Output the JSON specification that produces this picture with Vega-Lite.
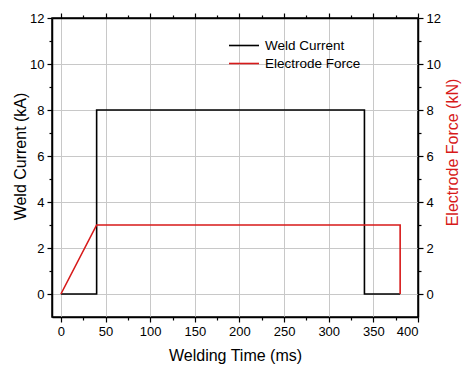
{
  "$schema": "https://vega.github.io/schema/vega-lite/v6.json",
  "width": 366,
  "height": 299,
  "autosize": {"type": "none"},
  "padding": {"left": 52, "top": 18, "right": 56, "bottom": 56},
  "background": "white",
  "config": {
    "font": "Liberation Sans",
    "view": {"stroke": "black", "strokeWidth": 1.5},
    "axis": {
      "domainColor": "black", "domainWidth": 1.5,
      "tickColor": "black", "tickWidth": 1.2,
      "labelFontSize": 13, "labelColor": "black",
      "titleFontSize": 16, "titleFontWeight": "normal", "titleColor": "black",
      "gridColor": "#c8c8c8", "gridWidth": 1
    }
  },
  "data": {
    "values": [
      {"series": "Weld Current", "i": 1, "t": 0, "v": 0},
      {"series": "Weld Current", "i": 2, "t": 40, "v": 0},
      {"series": "Weld Current", "i": 3, "t": 40, "v": 8},
      {"series": "Weld Current", "i": 4, "t": 340, "v": 8},
      {"series": "Weld Current", "i": 5, "t": 340, "v": 0},
      {"series": "Weld Current", "i": 6, "t": 380, "v": 0},
      {"series": "Electrode Force", "i": 1, "t": 0, "v": 0},
      {"series": "Electrode Force", "i": 2, "t": 40, "v": 3},
      {"series": "Electrode Force", "i": 3, "t": 380, "v": 3},
      {"series": "Electrode Force", "i": 4, "t": 380, "v": 0}
    ]
  },
  "layer": [
    {
      "transform": [{"filter": "datum.series === 'Weld Current'"}],
      "mark": {"type": "line", "strokeWidth": 1.6},
      "encoding": {
        "x": {"field": "t", "type": "quantitative",
          "scale": {"domain": [-10, 400], "nice": false, "zero": false},
          "axis": {"orient": "bottom", "title": "Welding Time (ms)", "titlePadding": 9,
            "values": [0,25,50,75,100,125,150,175,200,225,250,275,300,325,350,375,400],
            "labelExpr": "datum.value % 50 === 0 ? datum.label : ''",
            "tickSize": {"condition": {"test": "datum.value % 50 === 0", "value": 5}, "value": 3},
            "grid": true,
            "gridOpacity": {"condition": {"test": "datum.value % 50 === 0", "value": 1}, "value": 0},
            "labelPadding": 3}},
        "y": {"field": "v", "type": "quantitative",
          "scale": {"domain": [-1, 12], "nice": false, "zero": false},
          "axis": {"orient": "left", "title": "Weld Current (kA)", "titlePadding": 1, "titleY": 138,
            "values": [0,1,2,3,4,5,6,7,8,9,10,11,12],
            "labelExpr": "datum.value % 2 === 0 ? datum.label : ''",
            "tickSize": {"condition": {"test": "datum.value % 2 === 0", "value": 5}, "value": 3},
            "grid": true,
            "gridOpacity": {"condition": {"test": "datum.value % 2 === 0", "value": 1}, "value": 0},
            "labelPadding": 3}},
        "order": {"field": "i"},
        "color": {"field": "series", "type": "nominal",
          "scale": {"domain": ["Weld Current", "Electrode Force"], "range": ["black", "#d71a1a"]},
          "legend": {"title": null, "orient": "none", "legendX": 206, "legendY": 19,
            "symbolType": "M -5 0 L -1 0", "symbolSize": 225, "symbolStrokeWidth": 1.6,
            "labelFontSize": 13.5, "rowPadding": 3, "labelOffset": -10}}
      }
    },
    {
      "transform": [{"filter": "datum.series === 'Electrode Force'"}],
      "mark": {"type": "line", "strokeWidth": 1.6},
      "encoding": {
        "x": {"field": "t", "type": "quantitative",
          "scale": {"domain": [-10, 400], "nice": false, "zero": false},
          "axis": {"orient": "top", "title": null, "labels": false,
            "values": [0,25,50,75,100,125,150,175,200,225,250,275,300,325,350,375,400],
            "tickSize": {"condition": {"test": "datum.value % 50 === 0", "value": 5}, "value": 3},
            "grid": false}},
        "y": {"field": "v", "type": "quantitative",
          "scale": {"domain": [-1, 12], "nice": false, "zero": false},
          "axis": {"orient": "right", "title": "Electrode Force (kN)", "titleColor": "#d71a1a",
            "titleAngle": 270, "titlePadding": 20, "titleY": 134,
            "values": [0,1,2,3,4,5,6,7,8,9,10,11,12],
            "labelExpr": "datum.value % 2 === 0 ? datum.label : ''",
            "tickSize": {"condition": {"test": "datum.value % 2 === 0", "value": 5}, "value": 3},
            "grid": false, "labelPadding": 3}},
        "order": {"field": "i"},
        "color": {"field": "series", "type": "nominal",
          "scale": {"domain": ["Weld Current", "Electrode Force"], "range": ["black", "#d71a1a"]}}
      }
    }
  ],
  "resolve": {"scale": {"x": "independent", "y": "independent", "color": "shared"}, "axis": {"x": "independent", "y": "independent"}}
}
